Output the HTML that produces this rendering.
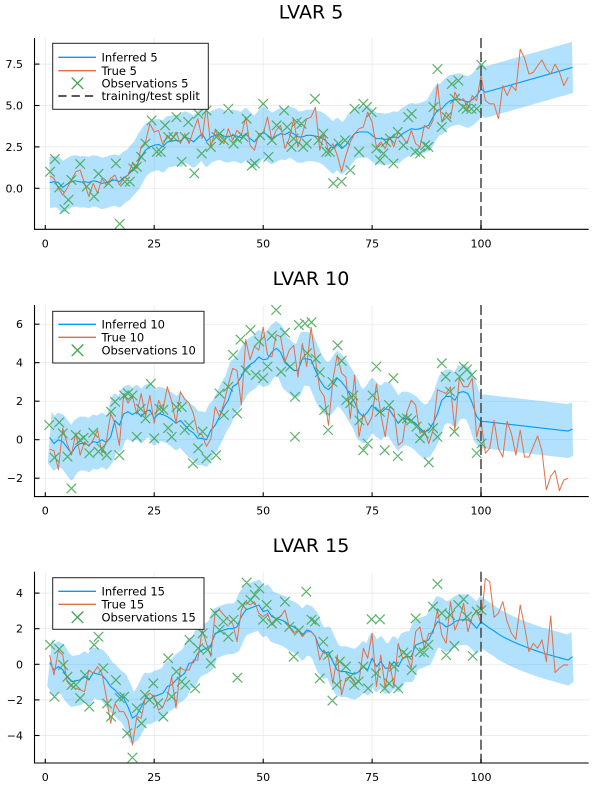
<!DOCTYPE html>
<html><head><meta charset="utf-8"><style>html,body{margin:0;padding:0;background:#fff}svg{display:block}</style></head><body>
<svg width="600" height="800" viewBox="0 0 600 800" xmlns="http://www.w3.org/2000/svg" font-family="'DejaVu Sans','Liberation Sans',sans-serif">
<rect width="600" height="800" fill="#fff"/>

<!-- ================= PLOT 1 ================= -->
<g stroke="#e6e6e6" stroke-width="0.7">
<line x1="45.3" y1="38" x2="45.3" y2="229"/><line x1="154.2" y1="38" x2="154.2" y2="229"/><line x1="263.2" y1="38" x2="263.2" y2="229"/><line x1="372.1" y1="38" x2="372.1" y2="229"/><line x1="481" y1="38" x2="481" y2="229"/>
<line x1="34" y1="64.1" x2="588.7" y2="64.1"/><line x1="34" y1="105.5" x2="588.7" y2="105.5"/><line x1="34" y1="146.9" x2="588.7" y2="146.9"/><line x1="34" y1="188.3" x2="588.7" y2="188.3"/>
</g>
<g transform="matrix(4.357 0 0 -16.56 45.3 188.3)" fill="none">
<polyline stroke="#009afa" stroke-opacity="0.3" stroke-width="3.1" stroke-linejoin="round" stroke-linecap="butt" points="1,.34 2,.4 3,.35 4,.05 5,.25 6,.4 7,.45 8,.38 9,.4 10,.35 11,.45 12,.4 13,.3 14,.35 15,.45 16,.5 17,.4 18,.65 19,.8 20,1.1 21,1.4 22,1.9 23,2.3 24,2.5 25,2.6 26,2.65 27,2.5 28,2.8 29,2.85 30,2.9 31,2.85 32,3.1 33,3 34,2.8 35,3.05 36,3.3 37,2.85 38,3.1 39,3.2 40,3.3 41,3.15 42,3.1 43,3.2 44,3.15 45,3.05 46,3.3 47,3 48,2.8 49,3.1 50,3.4 51,3.2 52,3 53,3.15 54,3.3 55,3.25 56,3.4 57,3.3 58,3.1 59,3.1 60,3.2 61,3.2 62,3.15 63,3.1 64,2.95 65,2.7 66,2.45 67,2.7 68,2.4 69,2.6 70,3 71,3.3 72,3.4 73,3.4 74,3.4 75,3.2 76,3 77,3 78,2.95 79,3 80,3.1 81,3.05 82,3.3 83,3.45 84,3.6 85,3.55 86,3.6 87,3.7 88,3.8 89,4.3 90,4.7 91,4.8 92,5.1 93,5.3 94,5.35 95,5.4 96,5.3 97,5.2 98,5.35 99,5.6 100,6 101,5.8 121,7.3"/>
<polyline stroke="#009afa" stroke-width="1.1" vector-effect="non-scaling-stroke" stroke-linejoin="round" points="1,.34 2,.4 3,.35 4,.05 5,.25 6,.4 7,.45 8,.38 9,.4 10,.35 11,.45 12,.4 13,.3 14,.35 15,.45 16,.5 17,.4 18,.65 19,.8 20,1.1 21,1.4 22,1.9 23,2.3 24,2.5 25,2.6 26,2.65 27,2.5 28,2.8 29,2.85 30,2.9 31,2.85 32,3.1 33,3 34,2.8 35,3.05 36,3.3 37,2.85 38,3.1 39,3.2 40,3.3 41,3.15 42,3.1 43,3.2 44,3.15 45,3.05 46,3.3 47,3 48,2.8 49,3.1 50,3.4 51,3.2 52,3 53,3.15 54,3.3 55,3.25 56,3.4 57,3.3 58,3.1 59,3.1 60,3.2 61,3.2 62,3.15 63,3.1 64,2.95 65,2.7 66,2.45 67,2.7 68,2.4 69,2.6 70,3 71,3.3 72,3.4 73,3.4 74,3.4 75,3.2 76,3 77,3 78,2.95 79,3 80,3.1 81,3.05 82,3.3 83,3.45 84,3.6 85,3.55 86,3.6 87,3.7 88,3.8 89,4.3 90,4.7 91,4.8 92,5.1 93,5.3 94,5.35 95,5.4 96,5.3 97,5.2 98,5.35 99,5.6 100,6 101,5.8 121,7.3"/>
<polyline stroke="#e36f47" stroke-width="1" vector-effect="non-scaling-stroke" stroke-linejoin="round" points="1,.75 2,.6 3,0 4,-.4 5,0 6,.5 7,1 8,1.1 9,.3 10,-.5 11,.3 12,-.3 13,.6 14,.2 15,.6 16,.8 17,.2 18,.6 19,.8 20,1.5 21,1.2 22,2.5 23,2.8 24,3.9 25,3.4 26,3.5 27,2.6 28,3.2 29,2.9 30,3.4 31,2.7 32,3.3 33,2.7 34,3.5 35,4.2 36,3 37,5 38,2.5 39,3.5 40,3 41,2.7 42,3.6 43,2.9 44,3.5 45,3.2 46,4.3 47,2.6 48,2.3 49,3.3 50,3.3 51,4.3 52,2.9 53,3.5 54,3.8 55,2.4 56,3 57,4.2 58,2.5 59,3.3 60,4.2 61,4.3 62,4.9 63,2.3 64,3.3 65,2.2 66,2.7 67,2 68,1 69,2 70,2.8 71,3.3 72,3.6 73,3.7 74,4.6 75,4 76,2.5 77,2.8 78,2.4 79,3.1 80,2.5 81,3.4 82,3.1 83,2.7 84,3.5 85,2.7 86,2.5 87,3.8 88,3.6 89,4.1 90,6.3 91,4 92,4.6 93,4.2 94,5.8 95,5.3 96,5.4 97,4.8 98,5.6 99,5.3 100,6.8 101,5.3 102,5.1 103,5.1 104,4.2 105,6.2 106,5.6 107,6.2 108,5.9 109,8.4 110,7.85 111,6.9 112,7 113,7.4 114,7.75 115,7.2 116,6.9 117,7.5 118,7 119,6.2 120,6.7"/>
<path stroke="#3ea44e" stroke-opacity="0.85" stroke-width="1.2" vector-effect="non-scaling-stroke" d="M1.1 1m-1.1 -.29l2.2 .58m-2.2 0l2.2 -.58M2.2 1.77m-1.1 -.29l2.2 .58m-2.2 0l2.2 -.58M3.2 .05m-1.1 -.29l2.2 .58m-2.2 0l2.2 -.58M4.4 -1.27m-1.1 -.29l2.2 .58m-2.2 0l2.2 -.58M5.3 -.7m-1.1 -.29l2.2 .58m-2.2 0l2.2 -.58M6 .5m-1.1 -.29l2.2 .58m-2.2 0l2.2 -.58M8 1.47m-1.1 -.29l2.2 .58m-2.2 0l2.2 -.58M9.5 .1m-1.1 -.29l2.2 .58m-2.2 0l2.2 -.58M11.2 -.5m-1.1 -.29l2.2 .58m-2.2 0l2.2 -.58M12.2 .87m-1.1 -.29l2.2 .58m-2.2 0l2.2 -.58M14.5 .3m-1.1 -.29l2.2 .58m-2.2 0l2.2 -.58M16.2 1.5m-1.1 -.29l2.2 .58m-2.2 0l2.2 -.58M17.1 -2.15m-1.1 -.29l2.2 .58m-2.2 0l2.2 -.58M18.3 .4m-1.1 -.29l2.2 .58m-2.2 0l2.2 -.58M19.4 .4m-1.1 -.29l2.2 .58m-2.2 0l2.2 -.58M20.2 1.2m-1.1 -.29l2.2 .58m-2.2 0l2.2 -.58M21 1.3m-1.1 -.29l2.2 .58m-2.2 0l2.2 -.58M22 1.9m-1.1 -.29l2.2 .58m-2.2 0l2.2 -.58M23 2.7m-1.1 -.29l2.2 .58m-2.2 0l2.2 -.58M24.4 4.1m-1.1 -.29l2.2 .58m-2.2 0l2.2 -.58M25.6 2.2m-1.1 -.29l2.2 .58m-2.2 0l2.2 -.58M26.5 2.2m-1.1 -.29l2.2 .58m-2.2 0l2.2 -.58M27.5 3.8m-1.1 -.29l2.2 .58m-2.2 0l2.2 -.58M28.2 3.1m-1.1 -.29l2.2 .58m-2.2 0l2.2 -.58M29.4 3.1m-1.1 -.29l2.2 .58m-2.2 0l2.2 -.58M30.1 4.3m-1.1 -.29l2.2 .58m-2.2 0l2.2 -.58M31.3 1.6m-1.1 -.29l2.2 .58m-2.2 0l2.2 -.58M32 3.1m-1.1 -.29l2.2 .58m-2.2 0l2.2 -.58M32.8 4m-1.1 -.29l2.2 .58m-2.2 0l2.2 -.58M34.2 .9m-1.1 -.29l2.2 .58m-2.2 0l2.2 -.58M35.1 4.5m-1.1 -.29l2.2 .58m-2.2 0l2.2 -.58M35.9 2.1m-1.1 -.29l2.2 .58m-2.2 0l2.2 -.58M37 4.7m-1.1 -.29l2.2 .58m-2.2 0l2.2 -.58M38 2.5m-1.1 -.29l2.2 .58m-2.2 0l2.2 -.58M39.3 3.1m-1.1 -.29l2.2 .58m-2.2 0l2.2 -.58M40 3.3m-1.1 -.29l2.2 .58m-2.2 0l2.2 -.58M41 2.9m-1.1 -.29l2.2 .58m-2.2 0l2.2 -.58M42 4.8m-1.1 -.29l2.2 .58m-2.2 0l2.2 -.58M43.2 2.7m-1.1 -.29l2.2 .58m-2.2 0l2.2 -.58M44 3m-1.1 -.29l2.2 .58m-2.2 0l2.2 -.58M46.2 4.2m-1.1 -.29l2.2 .58m-2.2 0l2.2 -.58M45.5 3.1m-1.1 -.29l2.2 .58m-2.2 0l2.2 -.58M47.4 1.37m-1.1 -.29l2.2 .58m-2.2 0l2.2 -.58M48.1 1.5m-1.1 -.29l2.2 .58m-2.2 0l2.2 -.58M49.3 3.2m-1.1 -.29l2.2 .58m-2.2 0l2.2 -.58M50 5.1m-1.1 -.29l2.2 .58m-2.2 0l2.2 -.58M51.2 1.9m-1.1 -.29l2.2 .58m-2.2 0l2.2 -.58M52 2.9m-1.1 -.29l2.2 .58m-2.2 0l2.2 -.58M53.1 3.8m-1.1 -.29l2.2 .58m-2.2 0l2.2 -.58M54.8 4.7m-1.1 -.29l2.2 .58m-2.2 0l2.2 -.58M55.5 3.7m-1.1 -.29l2.2 .58m-2.2 0l2.2 -.58M57 3m-1.1 -.29l2.2 .58m-2.2 0l2.2 -.58M57.7 4m-1.1 -.29l2.2 .58m-2.2 0l2.2 -.58M56.5 2.5m-1.1 -.29l2.2 .58m-2.2 0l2.2 -.58M58.8 3.9m-1.1 -.29l2.2 .58m-2.2 0l2.2 -.58M59.2 2.5m-1.1 -.29l2.2 .58m-2.2 0l2.2 -.58M60 2.7m-1.1 -.29l2.2 .58m-2.2 0l2.2 -.58M61.9 5.4m-1.1 -.29l2.2 .58m-2.2 0l2.2 -.58M62.7 2.9m-1.1 -.29l2.2 .58m-2.2 0l2.2 -.58M63.8 3.3m-1.1 -.29l2.2 .58m-2.2 0l2.2 -.58M64.5 2.2m-1.1 -.29l2.2 .58m-2.2 0l2.2 -.58M65.3 2.2m-1.1 -.29l2.2 .58m-2.2 0l2.2 -.58M66.1 .3m-1.1 -.29l2.2 .58m-2.2 0l2.2 -.58M68 .4m-1.1 -.29l2.2 .58m-2.2 0l2.2 -.58M67.3 2.7m-1.1 -.29l2.2 .58m-2.2 0l2.2 -.58M68.8 2.9m-1.1 -.29l2.2 .58m-2.2 0l2.2 -.58M70 1.1m-1.1 -.29l2.2 .58m-2.2 0l2.2 -.58M71 4.8m-1.1 -.29l2.2 .58m-2.2 0l2.2 -.58M72 2.2m-1.1 -.29l2.2 .58m-2.2 0l2.2 -.58M73 5.1m-1.1 -.29l2.2 .58m-2.2 0l2.2 -.58M73.8 4.9m-1.1 -.29l2.2 .58m-2.2 0l2.2 -.58M74.9 4.6m-1.1 -.29l2.2 .58m-2.2 0l2.2 -.58M76 2.4m-1.1 -.29l2.2 .58m-2.2 0l2.2 -.58M76.8 1.7m-1.1 -.29l2.2 .58m-2.2 0l2.2 -.58M77.6 2.1m-1.1 -.29l2.2 .58m-2.2 0l2.2 -.58M78.2 2.8m-1.1 -.29l2.2 .58m-2.2 0l2.2 -.58M79.9 1.5m-1.1 -.29l2.2 .58m-2.2 0l2.2 -.58M79.1 3m-1.1 -.29l2.2 .58m-2.2 0l2.2 -.58M80.9 3.4m-1.1 -.29l2.2 .58m-2.2 0l2.2 -.58M82.2 2.6m-1.1 -.29l2.2 .58m-2.2 0l2.2 -.58M83.3 4.3m-1.1 -.29l2.2 .58m-2.2 0l2.2 -.58M84.1 4.5m-1.1 -.29l2.2 .58m-2.2 0l2.2 -.58M84.9 2.2m-1.1 -.29l2.2 .58m-2.2 0l2.2 -.58M86 2.1m-1.1 -.29l2.2 .58m-2.2 0l2.2 -.58M87.2 2.6m-1.1 -.29l2.2 .58m-2.2 0l2.2 -.58M87.9 2.5m-1.1 -.29l2.2 .58m-2.2 0l2.2 -.58M89.1 4.9m-1.1 -.29l2.2 .58m-2.2 0l2.2 -.58M90 7.2m-1.1 -.29l2.2 .58m-2.2 0l2.2 -.58M91 3.7m-1.1 -.29l2.2 .58m-2.2 0l2.2 -.58M92.1 4.3m-1.1 -.29l2.2 .58m-2.2 0l2.2 -.58M93.3 6.3m-1.1 -.29l2.2 .58m-2.2 0l2.2 -.58M94.8 6.5m-1.1 -.29l2.2 .58m-2.2 0l2.2 -.58M94 5.4m-1.1 -.29l2.2 .58m-2.2 0l2.2 -.58M95.9 4.9m-1.1 -.29l2.2 .58m-2.2 0l2.2 -.58M96.7 4.8m-1.1 -.29l2.2 .58m-2.2 0l2.2 -.58M97.8 4.8m-1.1 -.29l2.2 .58m-2.2 0l2.2 -.58M99 4.8m-1.1 -.29l2.2 .58m-2.2 0l2.2 -.58M100.1 7.45m-1.1 -.29l2.2 .58m-2.2 0l2.2 -.58"/>
</g>
<line x1="481" y1="38" x2="481" y2="229" stroke="#444" stroke-width="1.5" stroke-dasharray="10 4"/>
<g stroke="#000" stroke-width="1.1">
<line x1="34.5" y1="38" x2="34.5" y2="229.8"/><line x1="34" y1="229.3" x2="588.7" y2="229.3"/>
<line x1="34.5" y1="64.1" x2="39.5" y2="64.1"/><line x1="34.5" y1="105.5" x2="39.5" y2="105.5"/><line x1="34.5" y1="146.9" x2="39.5" y2="146.9"/><line x1="34.5" y1="188.3" x2="39.5" y2="188.3"/>
<line x1="45.3" y1="229.3" x2="45.3" y2="225"/><line x1="154.2" y1="229.3" x2="154.2" y2="225"/><line x1="263.2" y1="229.3" x2="263.2" y2="225"/><line x1="372.1" y1="229.3" x2="372.1" y2="225"/><line x1="481" y1="229.3" x2="481" y2="225"/>
</g>
<g font-size="11" fill="#000" text-anchor="end">
<text x="23" y="68.1">7.5</text><text x="23" y="109.5">5.0</text><text x="23" y="150.9">2.5</text><text x="23" y="192.3">0.0</text>
</g>
<g font-size="11" fill="#000" text-anchor="middle">
<text x="45.3" y="247.5">0</text><text x="154.2" y="247.5">25</text><text x="263.2" y="247.5">50</text><text x="372.1" y="247.5">75</text><text x="481" y="247.5">100</text>
</g>
<text x="311" y="18.5" font-size="19" text-anchor="middle" fill="#000">LVAR 5</text>
<rect x="52.7" y="43.3" width="155.6" height="66" fill="#fff" stroke="#222" stroke-width="1"/>
<line x1="58.3" y1="57.3" x2="96" y2="57.3" stroke="#009afa" stroke-width="1.3"/>
<line x1="58.3" y1="70.7" x2="96" y2="70.7" stroke="#e36f47" stroke-width="1.3"/>
<path d="M71.7 77.5L83.3 89.1M71.7 89.1L83.3 77.5" stroke="#3ea44e" stroke-width="1.3"/>
<line x1="58.3" y1="96" x2="96" y2="96" stroke="#222" stroke-width="1.4" stroke-dasharray="8.3 5"/>
<g font-size="11.5" fill="#000">
<text x="101.5" y="61.5">Inferred 5</text><text x="101.5" y="74.9">True 5</text><text x="101.5" y="87.5">Observations 5</text><text x="101.5" y="100.2">training/test split</text>
</g>

<!-- ================= PLOT 2 ================= -->
<g stroke="#e6e6e6" stroke-width="0.7">
<line x1="45.3" y1="305" x2="45.3" y2="496.3"/><line x1="154.2" y1="305" x2="154.2" y2="496.3"/><line x1="263.2" y1="305" x2="263.2" y2="496.3"/><line x1="372.1" y1="305" x2="372.1" y2="496.3"/><line x1="481" y1="305" x2="481" y2="496.3"/>
<line x1="34" y1="324.2" x2="588.7" y2="324.2"/><line x1="34" y1="362.7" x2="588.7" y2="362.7"/><line x1="34" y1="401.2" x2="588.7" y2="401.2"/><line x1="34" y1="439.7" x2="588.7" y2="439.7"/><line x1="34" y1="478.2" x2="588.7" y2="478.2"/>
</g>
<g transform="matrix(4.357 0 0 -19.25 45.3 439.7)" fill="none">
<polyline stroke="#009afa" stroke-opacity="0.3" stroke-width="2.8" stroke-linejoin="round" stroke-linecap="butt" points="1,.12 2,-.2 3,0 4,-.1 5,-.4 6,-.7 7,-.35 8,-.2 9,-.2 10,-.28 11,-.1 12,-.15 13,0 14,-.15 15,.15 16,1 17,.75 18,1.35 19,1.45 20,1.3 21,1.45 22,1.2 23,1.45 24,1.55 25,1.1 26,1.35 27,1.3 28,1.2 29,1.05 30,.85 31,1 32,.75 33,.5 34,.35 35,.07 36,.07 37,0 38,.5 39,.75 40,1.2 41,1.7 42,2.05 43,2.75 44,2.9 45,3.3 46,3.7 47,3.9 48,4.05 49,4.3 50,4.15 51,4.2 52,4.55 53,4.75 54,4.55 55,4 56,3.8 57,3.6 58,3.6 59,4.2 60,4.2 61,4.15 62,3.6 63,3.1 64,2.75 65,2.6 66,2.85 67,3.2 68,3 69,2.7 70,2.3 71,1.95 72,1.4 73,1.2 74,1.45 75,1.8 76,1.55 77,1.4 78,1.6 79,1.55 80,1.2 81,.85 82,1.1 83,1.1 84,1 85,.85 86,.6 87,.4 88,.5 89,.85 90,1.35 91,2.05 92,2.25 93,2.25 94,2.05 95,2.45 96,2.5 97,2.4 98,1.9 99,1.2 100,.95 101,.94 120,.45 121,.55"/>
<polyline stroke="#009afa" stroke-width="1.1" vector-effect="non-scaling-stroke" stroke-linejoin="round" points="1,.12 2,-.2 3,0 4,-.1 5,-.4 6,-.7 7,-.35 8,-.2 9,-.2 10,-.28 11,-.1 12,-.15 13,0 14,-.15 15,.15 16,1 17,.75 18,1.35 19,1.45 20,1.3 21,1.45 22,1.2 23,1.45 24,1.55 25,1.1 26,1.35 27,1.3 28,1.2 29,1.05 30,.85 31,1 32,.75 33,.5 34,.35 35,.07 36,.07 37,0 38,.5 39,.75 40,1.2 41,1.7 42,2.05 43,2.75 44,2.9 45,3.3 46,3.7 47,3.9 48,4.05 49,4.3 50,4.15 51,4.2 52,4.55 53,4.75 54,4.55 55,4 56,3.8 57,3.6 58,3.6 59,4.2 60,4.2 61,4.15 62,3.6 63,3.1 64,2.75 65,2.6 66,2.85 67,3.2 68,3 69,2.7 70,2.3 71,1.95 72,1.4 73,1.2 74,1.45 75,1.8 76,1.55 77,1.4 78,1.6 79,1.55 80,1.2 81,.85 82,1.1 83,1.1 84,1 85,.85 86,.6 87,.4 88,.5 89,.85 90,1.35 91,2.05 92,2.25 93,2.25 94,2.05 95,2.45 96,2.5 97,2.4 98,1.9 99,1.2 100,.95 101,.94 120,.45 121,.55"/>
<polyline stroke="#e36f47" stroke-width="1" vector-effect="non-scaling-stroke" stroke-linejoin="round" points="1,-.5 2,-.57 3,-1.55 4,.6 5,-.2 6,-.8 7,.35 8,-.8 9,-.1 10,-.35 11,0 12,.5 13,-.7 14,-.1 15,1.35 16,.85 17,-.3 18,2.4 19,1.9 20,2.25 21,1.35 22,2.4 23,1.2 24,2.3 25,.85 26,2.05 27,1.55 28,2.75 29,2 30,.85 31,2.5 32,2.1 33,1.9 34,1.35 35,.35 36,.25 37,-.35 38,.05 39,1.7 40,1.2 41,1.9 42,2.85 43,3.7 44,3.6 45,1.8 46,5.2 47,4.15 48,4.85 49,4.65 50,5.85 51,4.4 52,4.3 53,5.45 54,5.35 55,4.05 56,4.65 57,4.9 58,3.25 59,5 60,3.8 61,5.85 62,4.15 63,2.6 64,2.25 65,.75 66,3.1 67,4.4 68,3.45 69,3.25 70,1.1 71,3.35 72,.15 73,1.35 74,.75 75,1.2 76,2.9 77,1.35 78,.15 79,1.7 80,1.55 81,-.28 82,-.1 83,1.45 84,2.05 85,1.8 86,.33 87,.5 88,-.2 89,.5 90,2.6 91,2.5 92,2.4 93,2.75 94,.5 95,3.2 96,2.75 97,2.75 98,3.2 99,.15 100,1 101,-.7 102,-.45 103,1 104,-.45 105,-.9 106,.95 107,.3 108,-.8 109,.5 110,-.9 111,-.9 112,-.35 113,.2 114,-.6 115,-2.6 116,-1.9 117,-1.6 118,-2.65 119,-2.1 120,-2"/>
<path stroke="#3ea44e" stroke-opacity="0.85" stroke-width="1.2" vector-effect="non-scaling-stroke" d="M.9 .76m-1.1 -.25l2.2 .5m-2.2 0l2.2 -.5M2.1 -.93m-1.1 -.25l2.2 .5m-2.2 0l2.2 -.5M3.2 .9m-1.1 -.25l2.2 .5m-2.2 0l2.2 -.5M4 .33m-1.1 -.25l2.2 .5m-2.2 0l2.2 -.5M5.1 -.88m-1.1 -.25l2.2 .5m-2.2 0l2.2 -.5M6 -2.53m-1.1 -.25l2.2 .5m-2.2 0l2.2 -.5M7 .24m-1.1 -.25l2.2 .5m-2.2 0l2.2 -.5M8 -.02m-1.1 -.25l2.2 .5m-2.2 0l2.2 -.5M8.8 .1m-1.1 -.25l2.2 .5m-2.2 0l2.2 -.5M10.1 -.7m-1.1 -.25l2.2 .5m-2.2 0l2.2 -.5M11 .36m-1.1 -.25l2.2 .5m-2.2 0l2.2 -.5M12.2 -.62m-1.1 -.25l2.2 .5m-2.2 0l2.2 -.5M12.9 -.45m-1.1 -.25l2.2 .5m-2.2 0l2.2 -.5M14.1 -.8m-1.1 -.25l2.2 .5m-2.2 0l2.2 -.5M15.1 1.45m-1.1 -.25l2.2 .5m-2.2 0l2.2 -.5M16 1.97m-1.1 -.25l2.2 .5m-2.2 0l2.2 -.5M17 -.8m-1.1 -.25l2.2 .5m-2.2 0l2.2 -.5M18.1 2.3m-1.1 -.25l2.2 .5m-2.2 0l2.2 -.5M19 2.4m-1.1 -.25l2.2 .5m-2.2 0l2.2 -.5M20 2.3m-1.1 -.25l2.2 .5m-2.2 0l2.2 -.5M21 .15m-1.1 -.25l2.2 .5m-2.2 0l2.2 -.5M21.9 1.6m-1.1 -.25l2.2 .5m-2.2 0l2.2 -.5M23 1.1m-1.1 -.25l2.2 .5m-2.2 0l2.2 -.5M24.2 2.9m-1.1 -.25l2.2 .5m-2.2 0l2.2 -.5M25 .07m-1.1 -.25l2.2 .5m-2.2 0l2.2 -.5M26.2 1.6m-1.1 -.25l2.2 .5m-2.2 0l2.2 -.5M27.1 1.55m-1.1 -.25l2.2 .5m-2.2 0l2.2 -.5M28.2 .6m-1.1 -.25l2.2 .5m-2.2 0l2.2 -.5M29 .15m-1.1 -.25l2.2 .5m-2.2 0l2.2 -.5M30.1 1.7m-1.1 -.25l2.2 .5m-2.2 0l2.2 -.5M31.3 1.7m-1.1 -.25l2.2 .5m-2.2 0l2.2 -.5M32 .5m-1.1 -.25l2.2 .5m-2.2 0l2.2 -.5M33 .76m-1.1 -.25l2.2 .5m-2.2 0l2.2 -.5M33.9 -1.23m-1.1 -.25l2.2 .5m-2.2 0l2.2 -.5M35.1 -.45m-1.1 -.25l2.2 .5m-2.2 0l2.2 -.5M36.1 .42m-1.1 -.25l2.2 .5m-2.2 0l2.2 -.5M37 -.97m-1.1 -.25l2.2 .5m-2.2 0l2.2 -.5M39.2 -.8m-1.1 -.25l2.2 .5m-2.2 0l2.2 -.5M40 2.4m-1.1 -.25l2.2 .5m-2.2 0l2.2 -.5M41 1.28m-1.1 -.25l2.2 .5m-2.2 0l2.2 -.5M42 2.75m-1.1 -.25l2.2 .5m-2.2 0l2.2 -.5M43.1 4.4m-1.1 -.25l2.2 .5m-2.2 0l2.2 -.5M44 1.37m-1.1 -.25l2.2 .5m-2.2 0l2.2 -.5M44.8 5.2m-1.1 -.25l2.2 .5m-2.2 0l2.2 -.5M46 3.6m-1.1 -.25l2.2 .5m-2.2 0l2.2 -.5M47.1 5.7m-1.1 -.25l2.2 .5m-2.2 0l2.2 -.5M48.3 3.36m-1.1 -.25l2.2 .5m-2.2 0l2.2 -.5M49.1 5.1m-1.1 -.25l2.2 .5m-2.2 0l2.2 -.5M50 3.2m-1.1 -.25l2.2 .5m-2.2 0l2.2 -.5M51 3.8m-1.1 -.25l2.2 .5m-2.2 0l2.2 -.5M52 5.4m-1.1 -.25l2.2 .5m-2.2 0l2.2 -.5M53 6.74m-1.1 -.25l2.2 .5m-2.2 0l2.2 -.5M54.1 3.53m-1.1 -.25l2.2 .5m-2.2 0l2.2 -.5M55 5.56m-1.1 -.25l2.2 .5m-2.2 0l2.2 -.5M56.2 3.8m-1.1 -.25l2.2 .5m-2.2 0l2.2 -.5M57.3 2.23m-1.1 -.25l2.2 .5m-2.2 0l2.2 -.5M57.3 .15m-1.1 -.25l2.2 .5m-2.2 0l2.2 -.5M58.2 5.96m-1.1 -.25l2.2 .5m-2.2 0l2.2 -.5M59.6 6.04m-1.1 -.25l2.2 .5m-2.2 0l2.2 -.5M61.1 6.1m-1.1 -.25l2.2 .5m-2.2 0l2.2 -.5M60.1 4.5m-1.1 -.25l2.2 .5m-2.2 0l2.2 -.5M62.1 4.2m-1.1 -.25l2.2 .5m-2.2 0l2.2 -.5M63 3.5m-1.1 -.25l2.2 .5m-2.2 0l2.2 -.5M64 1.54m-1.1 -.25l2.2 .5m-2.2 0l2.2 -.5M64.9 .5m-1.1 -.25l2.2 .5m-2.2 0l2.2 -.5M65.9 3m-1.1 -.25l2.2 .5m-2.2 0l2.2 -.5M67.1 4.9m-1.1 -.25l2.2 .5m-2.2 0l2.2 -.5M68 4.1m-1.1 -.25l2.2 .5m-2.2 0l2.2 -.5M69.1 2.06m-1.1 -.25l2.2 .5m-2.2 0l2.2 -.5M70 1.9m-1.1 -.25l2.2 .5m-2.2 0l2.2 -.5M70.7 2.3m-1.1 -.25l2.2 .5m-2.2 0l2.2 -.5M72.1 1m-1.1 -.25l2.2 .5m-2.2 0l2.2 -.5M73 -.55m-1.1 -.25l2.2 .5m-2.2 0l2.2 -.5M74 -.2m-1.1 -.25l2.2 .5m-2.2 0l2.2 -.5M75.1 2.3m-1.1 -.25l2.2 .5m-2.2 0l2.2 -.5M76 3.8m-1.1 -.25l2.2 .5m-2.2 0l2.2 -.5M76.8 1.45m-1.1 -.25l2.2 .5m-2.2 0l2.2 -.5M77.9 -.55m-1.1 -.25l2.2 .5m-2.2 0l2.2 -.5M78.9 1.8m-1.1 -.25l2.2 .5m-2.2 0l2.2 -.5M79.9 3.2m-1.1 -.25l2.2 .5m-2.2 0l2.2 -.5M80.9 -.85m-1.1 -.25l2.2 .5m-2.2 0l2.2 -.5M82 1.1m-1.1 -.25l2.2 .5m-2.2 0l2.2 -.5M83 1.1m-1.1 -.25l2.2 .5m-2.2 0l2.2 -.5M84 1m-1.1 -.25l2.2 .5m-2.2 0l2.2 -.5M85.2 .68m-1.1 -.25l2.2 .5m-2.2 0l2.2 -.5M86 .07m-1.1 -.25l2.2 .5m-2.2 0l2.2 -.5M86.9 .33m-1.1 -.25l2.2 .5m-2.2 0l2.2 -.5M88 -1.18m-1.1 -.25l2.2 .5m-2.2 0l2.2 -.5M89 .6m-1.1 -.25l2.2 .5m-2.2 0l2.2 -.5M90 .15m-1.1 -.25l2.2 .5m-2.2 0l2.2 -.5M91 3.97m-1.1 -.25l2.2 .5m-2.2 0l2.2 -.5M91.9 3.27m-1.1 -.25l2.2 .5m-2.2 0l2.2 -.5M92.9 2.5m-1.1 -.25l2.2 .5m-2.2 0l2.2 -.5M93.9 .42m-1.1 -.25l2.2 .5m-2.2 0l2.2 -.5M95.1 3.27m-1.1 -.25l2.2 .5m-2.2 0l2.2 -.5M96 3.8m-1.1 -.25l2.2 .5m-2.2 0l2.2 -.5M96.8 3.65m-1.1 -.25l2.2 .5m-2.2 0l2.2 -.5M97.9 3.36m-1.1 -.25l2.2 .5m-2.2 0l2.2 -.5M99 -.7m-1.1 -.25l2.2 .5m-2.2 0l2.2 -.5M100.1 -.2m-1.1 -.25l2.2 .5m-2.2 0l2.2 -.5"/>
</g>
<line x1="481" y1="305" x2="481" y2="496.3" stroke="#444" stroke-width="1.5" stroke-dasharray="10 4"/>
<g stroke="#000" stroke-width="1.1">
<line x1="34.5" y1="305" x2="34.5" y2="497.1"/><line x1="34" y1="496.6" x2="588.7" y2="496.6"/>
<line x1="34.5" y1="324.2" x2="39.5" y2="324.2"/><line x1="34.5" y1="362.7" x2="39.5" y2="362.7"/><line x1="34.5" y1="401.2" x2="39.5" y2="401.2"/><line x1="34.5" y1="439.7" x2="39.5" y2="439.7"/><line x1="34.5" y1="478.2" x2="39.5" y2="478.2"/>
<line x1="45.3" y1="496.6" x2="45.3" y2="492.3"/><line x1="154.2" y1="496.6" x2="154.2" y2="492.3"/><line x1="263.2" y1="496.6" x2="263.2" y2="492.3"/><line x1="372.1" y1="496.6" x2="372.1" y2="492.3"/><line x1="481" y1="496.6" x2="481" y2="492.3"/>
</g>
<g font-size="11" fill="#000" text-anchor="end">
<text x="23" y="328.2">6</text><text x="23" y="366.7">4</text><text x="23" y="405.2">2</text><text x="23" y="443.7">0</text><text x="23" y="482.2">−2</text>
</g>
<g font-size="11" fill="#000" text-anchor="middle">
<text x="45.3" y="514.5">0</text><text x="154.2" y="514.5">25</text><text x="263.2" y="514.5">50</text><text x="372.1" y="514.5">75</text><text x="481" y="514.5">100</text>
</g>
<text x="311" y="285.2" font-size="19" text-anchor="middle" fill="#000">LVAR 10</text>
<rect x="52.7" y="311.3" width="151.3" height="51.7" fill="#fff" stroke="#222" stroke-width="1"/>
<line x1="58.3" y1="324.3" x2="96" y2="324.3" stroke="#009afa" stroke-width="1.3"/>
<line x1="58.3" y1="337.3" x2="96" y2="337.3" stroke="#e36f47" stroke-width="1.3"/>
<path d="M71.7 344.5L83.3 356.1M71.7 356.1L83.3 344.5" stroke="#3ea44e" stroke-width="1.3"/>
<g font-size="11.5" fill="#000">
<text x="101.5" y="328.5">Inferred 10</text><text x="101.5" y="341.5">True 10</text><text x="101.5" y="354.5">Observations 10</text>
</g>

<!-- ================= PLOT 3 ================= -->
<g stroke="#e6e6e6" stroke-width="0.7">
<line x1="45.3" y1="571.7" x2="45.3" y2="762.7"/><line x1="154.2" y1="571.7" x2="154.2" y2="762.7"/><line x1="263.2" y1="571.7" x2="263.2" y2="762.7"/><line x1="372.1" y1="571.7" x2="372.1" y2="762.7"/><line x1="481" y1="571.7" x2="481" y2="762.7"/>
<line x1="34" y1="593.1" x2="588.7" y2="593.1"/><line x1="34" y1="628.7" x2="588.7" y2="628.7"/><line x1="34" y1="664.3" x2="588.7" y2="664.3"/><line x1="34" y1="699.9" x2="588.7" y2="699.9"/><line x1="34" y1="735.5" x2="588.7" y2="735.5"/>
</g>
<g transform="matrix(4.357 0 0 -17.8 45.3 664.3)" fill="none">
<polyline stroke="#009afa" stroke-opacity="0.3" stroke-width="2.85" stroke-linejoin="round" stroke-linecap="butt" points="1,.1 2,-.32 3,-.13 4,-.3 5,-.7 6,-.97 7,-.92 8,-.88 9,-.7 10,-.88 11,-.47 12,-.55 13,-.6 14,-.88 15,-1.25 16,-1.45 17,-1.72 18,-1.9 19,-2.4 20,-3.03 21,-2.85 22,-2.4 23,-1.9 24,-1.95 25,-1.8 26,-1.72 27,-1.62 28,-1.25 29,-1.15 30,-.88 31,-.7 32,-.5 33,.06 34,.1 35,.62 36,.8 37,.9 38,1.08 39,1.74 40,1.83 41,1.93 42,2 43,2 44,2.1 45,2.68 46,3.05 47,3.15 48,3.24 49,3.33 50,2.96 51,3.05 52,2.68 53,2.58 54,2.5 55,2.4 56,2.2 57,2.1 58,1.93 59,1.65 60,1.93 61,1.85 62,1.55 63,.9 64,.62 65,.7 66,.15 67,-.32 68,-.41 69,-.41 70,-.5 71,-.55 72,-.41 73,-.13 74,-.32 75,.34 76,-.13 77,.15 78,-.22 79,-.22 80,.15 81,-.13 82,.34 83,.43 84,.43 85,1.08 86,1.18 87,1.27 88,1.37 89,1.93 90,2.4 91,2.3 92,2.1 93,2.2 94,2.4 95,2.5 96,2.5 97,2.5 98,2.3 99,2.02 100,2.4 101,2.2 102,2.03 103,1.87 104,1.7 105,1.55 106,1.43 107,1.31 108,1.2 109,1.1 110,1 111,.91 112,.82 113,.73 114,.65 115,.58 116,.51 117,.44 118,.37 119,.3 120,.24 121,.43"/>
<polyline stroke="#009afa" stroke-width="1.1" vector-effect="non-scaling-stroke" stroke-linejoin="round" points="1,.1 2,-.32 3,-.13 4,-.3 5,-.7 6,-.97 7,-.92 8,-.88 9,-.7 10,-.88 11,-.47 12,-.55 13,-.6 14,-.88 15,-1.25 16,-1.45 17,-1.72 18,-1.9 19,-2.4 20,-3.03 21,-2.85 22,-2.4 23,-1.9 24,-1.95 25,-1.8 26,-1.72 27,-1.62 28,-1.25 29,-1.15 30,-.88 31,-.7 32,-.5 33,.06 34,.1 35,.62 36,.8 37,.9 38,1.08 39,1.74 40,1.83 41,1.93 42,2 43,2 44,2.1 45,2.68 46,3.05 47,3.15 48,3.24 49,3.33 50,2.96 51,3.05 52,2.68 53,2.58 54,2.5 55,2.4 56,2.2 57,2.1 58,1.93 59,1.65 60,1.93 61,1.85 62,1.55 63,.9 64,.62 65,.7 66,.15 67,-.32 68,-.41 69,-.41 70,-.5 71,-.55 72,-.41 73,-.13 74,-.32 75,.34 76,-.13 77,.15 78,-.22 79,-.22 80,.15 81,-.13 82,.34 83,.43 84,.43 85,1.08 86,1.18 87,1.27 88,1.37 89,1.93 90,2.4 91,2.3 92,2.1 93,2.2 94,2.4 95,2.5 96,2.5 97,2.5 98,2.3 99,2.02 100,2.4 101,2.2 102,2.03 103,1.87 104,1.7 105,1.55 106,1.43 107,1.31 108,1.2 109,1.1 110,1 111,.91 112,.82 113,.73 114,.65 115,.58 116,.51 117,.44 118,.37 119,.3 120,.24 121,.43"/>
<polyline stroke="#e36f47" stroke-width="1" vector-effect="non-scaling-stroke" stroke-linejoin="round" points="1,.52 2,-.6 3,.77 4,.52 5,-.97 6,-1.25 7,-1.35 8,-1.44 9,-1.54 10,-.32 11,-.5 12,-.13 13,-.5 14,-1.82 15,-3.31 16,-2.2 17,-2.66 18,-2.66 19,-3.13 20,-4.53 21,-2.94 22,-3.03 23,-1.82 24,-1.63 25,-1.82 26,-2.57 27,-2.38 28,-1.82 29,-.7 30,-2.47 31,-.22 32,-.32 33,-.32 34,.24 35,.24 36,1.93 37,1.18 38,.43 39,2.96 40,3.05 41,2.77 42,2.5 43,2.3 44,1.27 45,3.05 46,3.52 47,3.33 48,3.52 49,2.87 50,2.68 51,2.87 52,2.2 53,2.58 54,2.68 55,3.05 56,2.1 57,1.74 58,1.93 59,1.55 60,1.83 61,1.83 62,1.55 63,.24 64,.8 65,.34 66,-1.07 67,.52 68,-1.72 69,-.79 70,-.7 71,-1.07 72,-.97 73,.9 74,.34 75,1.74 76,-1.25 77,.52 78,-1.35 79,.15 80,-1.25 81,1.18 82,.34 83,.43 84,-.22 85,1.83 86,2.1 87,.9 88,1.74 89,1.74 90,3.05 91,1.65 92,1.18 93,3.52 94,1.93 95,2.5 96,3.43 97,1.83 98,2.68 99,3.05 100,2.3 101,4.83 102,4.64 103,2.64 104,2.87 105,3.52 106,2.4 107,1.74 108,1.4 109,3.33 110,2.12 111,.71 112,1.18 113,.9 114,1.37 115,.15 116,2.72 117,-.47 118,-.22 119,-.04 120,-.04"/>
<path stroke="#3ea44e" stroke-opacity="0.85" stroke-width="1.2" vector-effect="non-scaling-stroke" d="M1.1 1.09m-1.1 -.27l2.2 .54m-2.2 0l2.2 -.54M2.1 -1.82m-1.1 -.27l2.2 .54m-2.2 0l2.2 -.54M3.2 .86m-1.1 -.27l2.2 .54m-2.2 0l2.2 -.54M4.1 -.04m-1.1 -.27l2.2 .54m-2.2 0l2.2 -.54M5.1 -.7m-1.1 -.27l2.2 .54m-2.2 0l2.2 -.54M6 -1.16m-1.1 -.27l2.2 .54m-2.2 0l2.2 -.54M7 -1.16m-1.1 -.27l2.2 .54m-2.2 0l2.2 -.54M8 -1.9m-1.1 -.27l2.2 .54m-2.2 0l2.2 -.54M9.1 -.6m-1.1 -.27l2.2 .54m-2.2 0l2.2 -.54M10.1 -2.38m-1.1 -.27l2.2 .54m-2.2 0l2.2 -.54M11.2 1.09m-1.1 -.27l2.2 .54m-2.2 0l2.2 -.54M12.2 1.55m-1.1 -.27l2.2 .54m-2.2 0l2.2 -.54M13.3 -.22m-1.1 -.27l2.2 .54m-2.2 0l2.2 -.54M14.2 -2.2m-1.1 -.27l2.2 .54m-2.2 0l2.2 -.54M15.1 -2.94m-1.1 -.27l2.2 .54m-2.2 0l2.2 -.54M16.2 -.88m-1.1 -.27l2.2 .54m-2.2 0l2.2 -.54M17.1 -1.9m-1.1 -.27l2.2 .54m-2.2 0l2.2 -.54M18.1 -1.82m-1.1 -.27l2.2 .54m-2.2 0l2.2 -.54M18.8 -3.88m-1.1 -.27l2.2 .54m-2.2 0l2.2 -.54M20 -5.24m-1.1 -.27l2.2 .54m-2.2 0l2.2 -.54M21 -2.47m-1.1 -.27l2.2 .54m-2.2 0l2.2 -.54M22.1 -3.31m-1.1 -.27l2.2 .54m-2.2 0l2.2 -.54M22.9 -1.72m-1.1 -.27l2.2 .54m-2.2 0l2.2 -.54M23.9 -2m-1.1 -.27l2.2 .54m-2.2 0l2.2 -.54M24.8 -1.07m-1.1 -.27l2.2 .54m-2.2 0l2.2 -.54M25.9 -2.19m-1.1 -.27l2.2 .54m-2.2 0l2.2 -.54M27.1 -2.94m-1.1 -.27l2.2 .54m-2.2 0l2.2 -.54M28.2 .34m-1.1 -.27l2.2 .54m-2.2 0l2.2 -.54M29 -1.82m-1.1 -.27l2.2 .54m-2.2 0l2.2 -.54M30.1 -.41m-1.1 -.27l2.2 .54m-2.2 0l2.2 -.54M31.3 -.97m-1.1 -.27l2.2 .54m-2.2 0l2.2 -.54M32.1 -1.16m-1.1 -.27l2.2 .54m-2.2 0l2.2 -.54M33.1 1.37m-1.1 -.27l2.2 .54m-2.2 0l2.2 -.54M34.4 -1.35m-1.1 -.27l2.2 .54m-2.2 0l2.2 -.54M35.1 .9m-1.1 -.27l2.2 .54m-2.2 0l2.2 -.54M36.1 1.74m-1.1 -.27l2.2 .54m-2.2 0l2.2 -.54M37.2 .8m-1.1 -.27l2.2 .54m-2.2 0l2.2 -.54M38 .06m-1.1 -.27l2.2 .54m-2.2 0l2.2 -.54M39 2.87m-1.1 -.27l2.2 .54m-2.2 0l2.2 -.54M40 1.93m-1.1 -.27l2.2 .54m-2.2 0l2.2 -.54M40.9 2.4m-1.1 -.27l2.2 .54m-2.2 0l2.2 -.54M42 1.55m-1.1 -.27l2.2 .54m-2.2 0l2.2 -.54M43.2 2.5m-1.1 -.27l2.2 .54m-2.2 0l2.2 -.54M44.1 -.75m-1.1 -.27l2.2 .54m-2.2 0l2.2 -.54M45.2 3.33m-1.1 -.27l2.2 .54m-2.2 0l2.2 -.54M46.2 4.59m-1.1 -.27l2.2 .54m-2.2 0l2.2 -.54M47.1 3.61m-1.1 -.27l2.2 .54m-2.2 0l2.2 -.54M48.1 3.9m-1.1 -.27l2.2 .54m-2.2 0l2.2 -.54M49.1 4.27m-1.1 -.27l2.2 .54m-2.2 0l2.2 -.54M50 2.5m-1.1 -.27l2.2 .54m-2.2 0l2.2 -.54M50.8 3.33m-1.1 -.27l2.2 .54m-2.2 0l2.2 -.54M52 2.3m-1.1 -.27l2.2 .54m-2.2 0l2.2 -.54M53.1 2.5m-1.1 -.27l2.2 .54m-2.2 0l2.2 -.54M55 3.52m-1.1 -.27l2.2 .54m-2.2 0l2.2 -.54M56 2.1m-1.1 -.27l2.2 .54m-2.2 0l2.2 -.54M57 .43m-1.1 -.27l2.2 .54m-2.2 0l2.2 -.54M58.2 1.9m-1.1 -.27l2.2 .54m-2.2 0l2.2 -.54M59.9 4.08m-1.1 -.27l2.2 .54m-2.2 0l2.2 -.54M61.1 2.5m-1.1 -.27l2.2 .54m-2.2 0l2.2 -.54M61.9 2.4m-1.1 -.27l2.2 .54m-2.2 0l2.2 -.54M63.8 1.27m-1.1 -.27l2.2 .54m-2.2 0l2.2 -.54M63 -.79m-1.1 -.27l2.2 .54m-2.2 0l2.2 -.54M64.9 .52m-1.1 -.27l2.2 .54m-2.2 0l2.2 -.54M65.9 -2.04m-1.1 -.27l2.2 .54m-2.2 0l2.2 -.54M66.9 -1.16m-1.1 -.27l2.2 .54m-2.2 0l2.2 -.54M67.6 .15m-1.1 -.27l2.2 .54m-2.2 0l2.2 -.54M69 -.13m-1.1 -.27l2.2 .54m-2.2 0l2.2 -.54M70 -.7m-1.1 -.27l2.2 .54m-2.2 0l2.2 -.54M70.9 -1.16m-1.1 -.27l2.2 .54m-2.2 0l2.2 -.54M71.9 -.97m-1.1 -.27l2.2 .54m-2.2 0l2.2 -.54M73 -.13m-1.1 -.27l2.2 .54m-2.2 0l2.2 -.54M74.1 -1.35m-1.1 -.27l2.2 .54m-2.2 0l2.2 -.54M74.9 2.53m-1.1 -.27l2.2 .54m-2.2 0l2.2 -.54M75.9 -.5m-1.1 -.27l2.2 .54m-2.2 0l2.2 -.54M76.8 2.53m-1.1 -.27l2.2 .54m-2.2 0l2.2 -.54M77.9 -1.35m-1.1 -.27l2.2 .54m-2.2 0l2.2 -.54M78.9 -1.07m-1.1 -.27l2.2 .54m-2.2 0l2.2 -.54M80 -.13m-1.1 -.27l2.2 .54m-2.2 0l2.2 -.54M81 -1.35m-1.1 -.27l2.2 .54m-2.2 0l2.2 -.54M82.2 .66m-1.1 -.27l2.2 .54m-2.2 0l2.2 -.54M83 .52m-1.1 -.27l2.2 .54m-2.2 0l2.2 -.54M84.1 -.32m-1.1 -.27l2.2 .54m-2.2 0l2.2 -.54M85 2.58m-1.1 -.27l2.2 .54m-2.2 0l2.2 -.54M86 .71m-1.1 -.27l2.2 .54m-2.2 0l2.2 -.54M86.9 .66m-1.1 -.27l2.2 .54m-2.2 0l2.2 -.54M87.9 1.09m-1.1 -.27l2.2 .54m-2.2 0l2.2 -.54M89 3.24m-1.1 -.27l2.2 .54m-2.2 0l2.2 -.54M90 4.51m-1.1 -.27l2.2 .54m-2.2 0l2.2 -.54M91 2.87m-1.1 -.27l2.2 .54m-2.2 0l2.2 -.54M92 .52m-1.1 -.27l2.2 .54m-2.2 0l2.2 -.54M92.9 2.77m-1.1 -.27l2.2 .54m-2.2 0l2.2 -.54M93.9 1.03m-1.1 -.27l2.2 .54m-2.2 0l2.2 -.54M94.8 3.33m-1.1 -.27l2.2 .54m-2.2 0l2.2 -.54M96 3.65m-1.1 -.27l2.2 .54m-2.2 0l2.2 -.54M96.8 2.68m-1.1 -.27l2.2 .54m-2.2 0l2.2 -.54M98.1 .47m-1.1 -.27l2.2 .54m-2.2 0l2.2 -.54M99 2.96m-1.1 -.27l2.2 .54m-2.2 0l2.2 -.54M100.1 3.05m-1.1 -.27l2.2 .54m-2.2 0l2.2 -.54"/>
</g>
<line x1="481" y1="571.7" x2="481" y2="762.7" stroke="#444" stroke-width="1.5" stroke-dasharray="10 4"/>
<g stroke="#000" stroke-width="1.1">
<line x1="34.5" y1="571.7" x2="34.5" y2="763.5"/><line x1="34" y1="763" x2="588.7" y2="763"/>
<line x1="34.5" y1="593.1" x2="39.5" y2="593.1"/><line x1="34.5" y1="628.7" x2="39.5" y2="628.7"/><line x1="34.5" y1="664.3" x2="39.5" y2="664.3"/><line x1="34.5" y1="699.9" x2="39.5" y2="699.9"/><line x1="34.5" y1="735.5" x2="39.5" y2="735.5"/>
<line x1="45.3" y1="763" x2="45.3" y2="758.7"/><line x1="154.2" y1="763" x2="154.2" y2="758.7"/><line x1="263.2" y1="763" x2="263.2" y2="758.7"/><line x1="372.1" y1="763" x2="372.1" y2="758.7"/><line x1="481" y1="763" x2="481" y2="758.7"/>
</g>
<g font-size="11" fill="#000" text-anchor="end">
<text x="23" y="597.1">4</text><text x="23" y="632.7">2</text><text x="23" y="668.3">0</text><text x="23" y="703.9">−2</text><text x="23" y="739.5">−4</text>
</g>
<g font-size="11" fill="#000" text-anchor="middle">
<text x="45.3" y="781">0</text><text x="154.2" y="781">25</text><text x="263.2" y="781">50</text><text x="372.1" y="781">75</text><text x="481" y="781">100</text>
</g>
<text x="311" y="551.8" font-size="19" text-anchor="middle" fill="#000">LVAR 15</text>
<rect x="52.7" y="577.7" width="151.3" height="51.6" fill="#fff" stroke="#222" stroke-width="1"/>
<line x1="58.3" y1="591.3" x2="96" y2="591.3" stroke="#009afa" stroke-width="1.3"/>
<line x1="58.3" y1="604.3" x2="96" y2="604.3" stroke="#e36f47" stroke-width="1.3"/>
<path d="M71.7 611.5L83.3 623.1M71.7 623.1L83.3 611.5" stroke="#3ea44e" stroke-width="1.3"/>
<g font-size="11.5" fill="#000">
<text x="101.5" y="595.5">Inferred 15</text><text x="101.5" y="608.5">True 15</text><text x="101.5" y="621.5">Observations 15</text>
</g>
</svg>
</body></html>
